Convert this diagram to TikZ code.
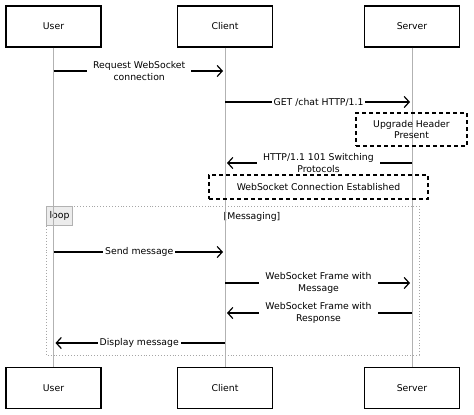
\documentclass[tikz,border=0pt]{standalone}
\usepackage{fontspec}
\setmainfont{DejaVu Sans}
\usetikzlibrary{arrows.meta, calc, positioning}

\begin{document}
\begin{tikzpicture}[x=1pt, y=-1pt, line width=1pt, font=\fontsize{9.3}{11.5}\selectfont,
    actor/.style={draw, line width=1.1pt, minimum width=95pt, minimum height=41pt},
    life/.style={draw=black!30, line width=0.8pt},
    msg/.style={-{Straight Barb[length=5pt, width=11pt]}, line width=1.2pt, shorten >=2pt},
    lbl/.style={fill=white, align=center, inner sep=2pt},
    note/.style={draw, line width=1.1pt, dash pattern=on 4pt off 3pt, align=center}]
  \useasboundingbox (0,0) rectangle (474,415);

  % loop frame
  \draw[draw=black!35, line width=0.9pt, dotted] (46,206) rectangle (419,355);
  \node[draw=black!30, fill=gray!15, anchor=north west, minimum width=26pt, minimum height=19pt, inner sep=1pt] (loop) at (46,206) {loop};
  \node (guard) at (252,217) {[Messaging]};

  % participants
  \node[actor] (userT) at (53.5,26.5) {User};
  \node[actor] (clientT) at (225,26.5) {Client};
  \node[actor] (serverT) at (412,26.5) {Server};
  \node[actor] (userB) at (53.5,388) {User};
  \node[actor] (clientB) at (225,388) {Client};
  \node[actor] (serverB) at (412,388) {Server};
  \draw[life] (userT.south) -- (userB.north);
  \draw[life] (clientT.south) -- (clientB.north);
  \draw[life] (serverT.south) -- (serverB.north);

  % message ends on the lifelines
  \coordinate (u1) at (53.5,71);   \coordinate (c1) at (225,71);
  \coordinate (c2) at (225,102);   \coordinate (s2) at (412,102);
  \coordinate (s3) at (412,163);   \coordinate (c3) at (225,163);
  \coordinate (u4) at (53.5,252);  \coordinate (c4) at (225,252);
  \coordinate (c5) at (225,283);   \coordinate (s5) at (412,283);
  \coordinate (s6) at (412,313);   \coordinate (c6) at (225,313);
  \coordinate (c7) at (225,343);   \coordinate (u7) at (53.5,343);

  \draw[msg] (u1) -- (c1) node[lbl, midway, inner xsep=6pt] {Request WebSocket\\connection};
  \draw[msg] (c2) -- (s2) node[lbl, midway] {GET /chat HTTP/1.1};
  \node[note, minimum width=111pt, minimum height=33pt] (upgrade) at (411.5,129.5) {Upgrade Header\\Present};
  \draw[msg] (s3) -- (c3) node[lbl, midway, inner xsep=6pt] {HTTP/1.1 101 Switching\\Protocols};
  \node[note, minimum width=219pt, minimum height=24pt] (established) at (318.5,187) {WebSocket Connection Established};

  \draw[msg] (u4) -- (c4) node[lbl, midway] {Send message};
  \draw[msg] (c5) -- (s5) node[lbl, midway, inner xsep=6pt] {WebSocket Frame with\\Message};
  \draw[msg] (s6) -- (c6) node[lbl, midway, inner xsep=6pt] {WebSocket Frame with\\Response};
  \draw[msg] (c7) -- (u7) node[lbl, midway] {Display message};
\end{tikzpicture}
\end{document}
